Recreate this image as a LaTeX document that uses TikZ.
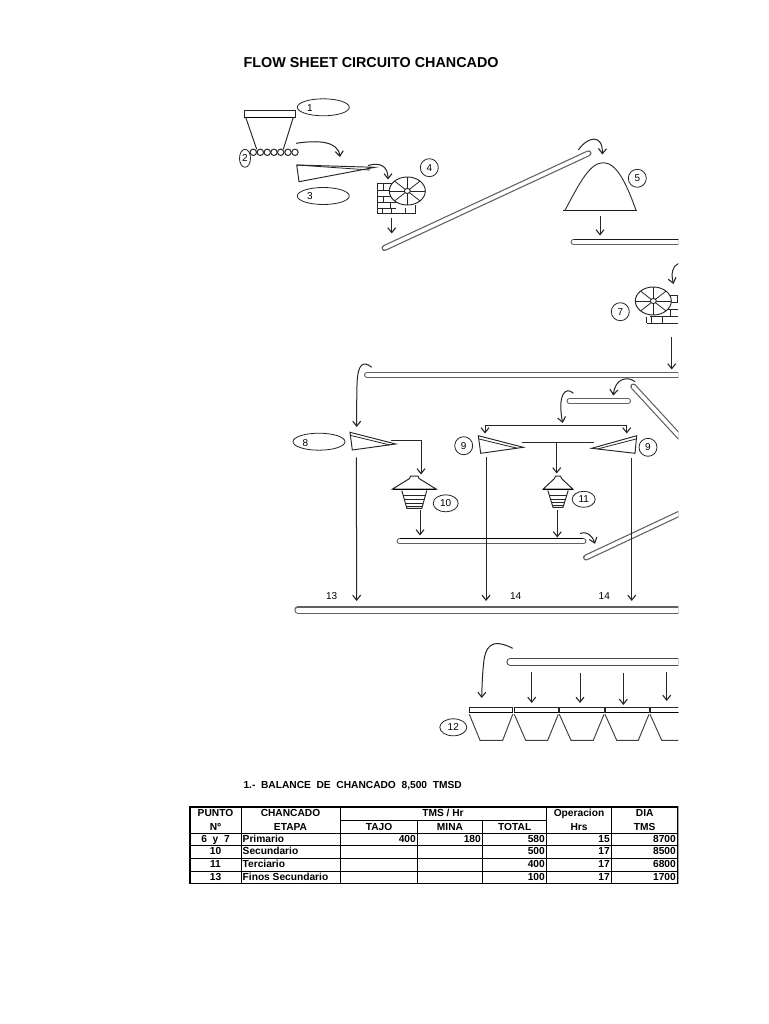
\documentclass[tikz,border=0pt]{standalone}
\usepackage{fontspec}
\setmainfont{Liberation Sans}
\usetikzlibrary{arrows.meta,shapes.geometric}
\tikzset{
  flowline/.style={line width=1pt,black!85,-{Straight Barb[length=5pt,width=8pt,line width=1.1pt]}},
  plainline/.style={line width=1pt,black!85},
  belt/.style={double=white,double distance=3.6pt,line width=1.2pt,draw=black!62,line cap=round},
  solidpart/.style={line width=0.95pt,draw=black!85,fill=white,line join=miter},
  thinpart/.style={line width=0.8pt,black!85},
  oval/.style={ellipse,draw=black!85,line width=0.8pt,inner sep=0pt,fill=white},
  ring/.style={circle,draw=black!85,line width=0.8pt,inner sep=0pt,minimum size=18pt,font=\fontsize{10}{12}\selectfont},
  lbl/.style={inner sep=0pt,font=\fontsize{10}{12}\selectfont},
  cellbase/.style={inner sep=0pt,text height=7.4pt,text depth=1.4pt,font=\fontsize{10.2}{12}\selectfont\bfseries},
  cellc/.style={cellbase,anchor=center},
  celll/.style={cellbase,anchor=west},
  cellr/.style={cellbase,anchor=east},
  tabrule/.style={line width=0.85pt,black},
  tabheavy/.style={line width=1.6pt,black}
}
% straight flow arrow between two named free-end coordinates
\newcommand{\flowarrow}[3]{%
  \coordinate (#1s) at (#2); \coordinate (#1e) at (#3);
  \draw[flowline] (#1s) -- (#1e);}
\newcommand{\crwheel}[2]{%
  \begin{scope}[shift={(#1,#2)}]
    \draw[solidpart] (0,0) ellipse [x radius=18,y radius=14];
    \foreach \a in {0,45,...,315}{\draw[thinpart] (0,0) -- ({18*cos(\a)},{14*sin(\a)});}
    \draw[solidpart] (0,0) ellipse [x radius=3,y radius=2.5];
  \end{scope}}
\newcommand{\crcone}[6]{% centre x, roof half width, body top half, body bottom half, top half, bottom y
  \begin{scope}[shift={(#1,0)}]
    \draw[solidpart,line width=1pt] (-#2,489) -- (-#5,478.5) -- (-#5+1,476) -- (#5-1,476) -- (#5,478.5) -- (#2,489) -- cycle;
    \draw[line width=1.7pt,black] (-#2,489.6) -- (#2,489.6);
    \draw[solidpart] (-#3,490.5) -- (-#4,#6) -- (#4,#6) -- (#3,490.5);
    \foreach \f in {0.27,0.5,0.73,0.9}{\draw[thinpart] ({-(#3)+\f*(#3-#4)},{490.5+\f*(#6-490.5)}) -- ({(#3)-\f*(#3-#4)},{490.5+\f*(#6-490.5)});}
  \end{scope}}
\newcommand{\binshape}[4]{% left, bottom left, bottom right, right
  \draw[line width=1pt,black!85] (#1,707.3) rectangle (#4,712.7);
  \draw[line width=1.4pt,black] (#1,712.7) -- (#4,712.7);
  \draw[line width=0.95pt,black!75] (#1,714.3) -- (#2,740.3) -- (#3,740.3) -- (#4,714.3);}
\begin{document}
\begin{tikzpicture}[x=1pt,y=-1pt]
\useasboundingbox (0,0) rectangle (768,1024);
\fill[white] (0,0) rectangle (768,1024);
\begin{scope}
\clip (0,0) rectangle (678.4,1024);

\node[anchor=west,inner sep=0pt,font=\fontsize{14.35}{16}\selectfont\bfseries] (title) at (243.5,63) {FLOW SHEET CIRCUITO CHANCADO};

% feed hopper
\draw[solidpart,line width=1pt] (244.3,110.7) rectangle (295,117.3);
\draw[line width=1.5pt,black] (244.3,117.3) -- (295,117.3);
\draw[solidpart] (245.7,117.3) -- (256.7,149.3);
\draw[solidpart] (293.3,117.3) -- (283.3,149.3);
\node[oval,minimum width=52pt,minimum height=17pt] (o1) at (323.3,107.3) {};
\node[lbl] (t1) at (310,108) {1};
\node[oval,minimum width=11pt,minimum height=18pt] (o2) at (245,158.3) {};
\node[lbl] (t2) at (245,158.5) {2};
\foreach \r in {253.3,260.3,267.3,274,280.7,288,295}{\draw[line width=1pt,black!85,fill=white] (\r,152.3) circle (3.2);}

\coordinate (a1s) at (296,143.3); \coordinate (a1e) at (340,157);
\draw[flowline] (a1s) .. controls (318,140) and (338,141) .. (a1e);

% grizzly 3
\draw[solidpart] (296.7,165) -- (375,167.3) -- (299,181.7) -- cycle;
\draw[thinpart] (296.7,165) -- (370,170);
\node[oval,minimum width=52pt,minimum height=17pt] (o3) at (323.3,196) {};
\node[lbl] (t3) at (310,196.5) {3};
\coordinate (a2s) at (368,165.5); \coordinate (a2e) at (388,179.5);
\draw[flowline] (a2s) .. controls (380,162) and (388,166) .. (a2e);

% crusher 4
\draw[line width=1pt,black!85] (396,184) -- (377.7,184) -- (377.7,213.3) -- (415,213.3) -- (415,205);
\foreach \yy in {190,196,202,208}{\draw[thinpart] (377.7,\yy) -- (396,\yy);}
\draw[thinpart] (383,184) -- (383,190) (390,190) -- (390,196) (383,196) -- (383,202) (390,202) -- (390,208) (391,208) -- (391,213.3) (405,208) -- (405,213.3) (382,208) -- (382,213.3);
\crwheel{407.3}{191}
\node[ring] (c4) at (429.3,167.7) {4};
\flowarrow{a3}{391.7,218.3}{391.7,233.5}

% inclined belt to pile
\coordinate (b1s) at (384.5,248); \coordinate (b1e) at (588.5,153.3);
\draw[belt] (b1s) -- (b1e);
\coordinate (a4s) at (578.3,150); \coordinate (a4e) at (602.3,154.5);
\draw[flowline] (a4s) .. controls (588,136) and (603,134) .. (a4e);

% stockpile 5
\coordinate (p5l) at (562.7,210.3); \coordinate (p5r) at (637.3,210.3);
\draw[line width=1.1pt,black!90] (p5l) -- (p5r);
\draw[line width=0.95pt,black!80] (565,210.3) .. controls (580,182) and (590,162.7) .. (603.3,162.7) .. controls (617,162.7) and (627,185) .. (636,210.3);
\node[ring] (c5) at (637.3,178.3) {5};
\flowarrow{a5}{600,216}{600,235.5}

% belt under pile
\coordinate (b2s) at (573.5,241.8); \coordinate (b2e) at (700,241.8);
\draw[belt] (b2s) -- (b2e);
\draw[line width=1pt,black!90] (573.5,239.2) -- (680,239.2);

\coordinate (a6s) at (678.5,263.5); \coordinate (a6e) at (673.5,284);
\draw[flowline] (a6s) .. controls (672,266) and (671,274) .. (a6e);

% crusher 7
\draw[thinpart,line width=1pt] (664,295) -- (678.4,295) (668,302) -- (678.4,302) (664,309) -- (678.4,309) (650,316.7) -- (678.4,316.7) (646.7,323.3) -- (678.4,323.3);
\draw[thinpart] (677,295) -- (677,302) (668,302) -- (668,309) (646.7,316.7) -- (646.7,323.3) (651,316.7) -- (651,323.3) (662,316.7) -- (662,323.3) (670,309) -- (670,316.7);
\crwheel{653.3}{301}
\node[ring] (c7) at (620.3,311.7) {7};
\flowarrow{a7}{671.7,337.3}{671.7,369.5}

% main belt
\coordinate (b3s) at (367,374.8); \coordinate (b3e) at (700,374.8);
\draw[belt] (b3s) -- (b3e);
\coordinate (a8s) at (371.7,367.3); \coordinate (a8e) at (356.7,427);
\draw[flowline] (a8s) .. controls (364,361) and (357.5,362) .. (357,385) .. controls (356.6,400) and (356.7,412) .. (a8e);

% screen 8
\draw[solidpart] (350,432.3) -- (395.7,444) -- (352.3,450) -- cycle;
\draw[thinpart] (351,435.5) -- (390,445);
\node[oval,minimum width=52pt,minimum height=17pt] (o8) at (319,441.7) {};
\node[lbl] (t8) at (305.3,442.7) {8};
\coordinate (l8a) at (391,440); \coordinate (l8b) at (421,440); \coordinate (l8c) at (421,474.5);
\draw[flowline] (l8a) -- (l8b) -- (l8c);
\flowarrow{a9}{356.3,457.3}{356.7,601}

% cone 10
\crcone{414.3}{21.7}{12.5}{7.5}{4.7}{508.3}
\node[oval,minimum width=25pt,minimum height=17pt,font=\fontsize{10}{12}\selectfont] (o10) at (445.7,503.3) {10};
\flowarrow{a10}{420,510}{420,535.5}

% transfer belt
\coordinate (b4s) at (399.5,541.2); \coordinate (b4e) at (583.5,541.2);
\draw[belt] (b4s) -- (b4e);
\draw[line width=1.1pt,black] (400,538.9) -- (583,538.9);

% return belts
\coordinate (b5s) at (586,557.5); \coordinate (b5e) at (700,504);
\draw[belt] (b5s) -- (b5e);
\coordinate (a11s) at (580,533.5); \coordinate (a11e) at (595,543.8);
\draw[flowline] (a11s) .. controls (587,531) and (592,535) .. (a11e);

\coordinate (b6s) at (633.3,386.5); \coordinate (b6e) at (700,459);
\draw[belt] (b6s) -- (b6e);
\coordinate (a12s) at (635,381.7); \coordinate (a12e) at (613.3,395.5);
\draw[flowline] (a12s) .. controls (628,376) and (615,378) .. (a12e);

% small belt
\coordinate (b7s) at (569.5,401); \coordinate (b7e) at (628,401);
\draw[belt] (b7s) -- (b7e);
\coordinate (a13s) at (573.3,393.3); \coordinate (a13e) at (562.7,423);
\draw[flowline] (a13s) .. controls (566,386) and (557,394) .. (a13e);

% splitter
\coordinate (sl) at (485,433.5); \coordinate (sr) at (626.7,433.5);
\draw[flowline] (556,425) -- (485,425) -- (sl);
\draw[flowline] (556,425) -- (626.7,425) -- (sr);

% screens 9
\draw[solidpart] (478.3,435.7) -- (523.3,447.3) -- (480.7,453.3) -- cycle;
\draw[thinpart] (479,439) -- (517.5,448.3);
\draw[solidpart] (636.7,435.7) -- (591.7,448.3) -- (635,453.3) -- cycle;
\draw[thinpart] (636,439) -- (597.5,449);
\node[ring] (c9a) at (463.7,445.7) {9};
\node[ring] (c9b) at (648,447.3) {9};
\coordinate (h1) at (521.7,442.7); \coordinate (h2) at (594,442.7);
\draw[plainline] (h1) -- (h2);
\flowarrow{a14}{556.7,442.7}{556.7,473.5}
\flowarrow{a15}{486,457.3}{486,601}
\flowarrow{a16}{631.7,458.3}{631.7,601}

% cone 11
\crcone{558}{14.7}{10.2}{5}{3.5}{507.3}
\node[oval,minimum width=23pt,minimum height=16pt,font=\fontsize{10}{12}\selectfont] (o11) at (583.7,499.3) {11};
\flowarrow{a17}{557.3,510}{557.3,537.5}

% fines belt
\node[lbl] (t13) at (331.7,596) {13};
\node[lbl] (t14a) at (515.7,596.5) {14};
\node[lbl] (t14b) at (604.3,596.5) {14};
\coordinate (b8s) at (298,610); \coordinate (b8e) at (700,610);
\draw[belt,double distance=5pt] (b8s) -- (b8e);

% bin feed
\coordinate (b9s) at (510.5,661.7); \coordinate (b9e) at (700,661.7);
\draw[belt,double distance=6pt,draw=black!70] (b9s) -- (b9e);
\coordinate (a18s) at (512.7,648.3); \coordinate (a18e) at (481.7,698);
\draw[flowline] (a18s) .. controls (498,641) and (487,640) .. (484,660) .. controls (482.5,672) and (482,685) .. (a18e);
\flowarrow{a19}{531.7,671.7}{531.7,703}
\flowarrow{a20}{580,673.3}{580,703}
\flowarrow{a21}{623.3,673.3}{623.3,705}
\flowarrow{a22}{666.7,671.7}{666.7,701}

% bins
\binshape{469.3}{480}{502.7}{512.7}
\binshape{514.3}{525.7}{547.7}{558.3}
\binshape{559.3}{571}{593.3}{604}
\binshape{605}{616.7}{638.3}{649}
\binshape{650}{661.7}{690}{695}
\node[oval,minimum width=27pt,minimum height=17pt,font=\fontsize{10}{12}\selectfont] (o12) at (453.3,727.3) {12};

% balance table
\node[anchor=west,inner sep=0pt,font=\fontsize{10.2}{12}\selectfont\bfseries] (bal) at (243.3,786) {1.-\ \ BALANCE\ \ DE\ \ CHANCADO\ \ 8,500\ \ TMSD};

\foreach \yy in {845,858.3,871}{\draw[tabrule] (190,\yy) -- (677.7,\yy);}
\draw[tabrule] (340,820.7) -- (546.7,820.7);
\foreach \xx in {417.7,482.7}{\draw[tabrule] (\xx,820.7) -- (\xx,883.3);}
\foreach \xx in {241,340,546.7,611.7}{\draw[tabrule] (\xx,806.7) -- (\xx,883.3);}
\draw[tabheavy] (190,833.3) -- (677.7,833.3);
\draw[tabheavy] (190,806.7) rectangle (677.7,883.3);

\node[cellc] (h11) at (215.5,813.5) {PUNTO};
\node[cellc] (h12) at (215.5,827) {Nº};
\node[cellc] (h21) at (290.5,813.5) {CHANCADO};
\node[cellc] (h22) at (290.5,827) {ETAPA};
\node[cellc] (h31) at (443,813.5) {TMS / Hr};
\node[cellc] (h41) at (379,827) {TAJO};
\node[cellc] (h42) at (450,827) {MINA};
\node[cellc] (h43) at (514.7,827) {TOTAL};
\node[cellc] (h51) at (579,813.5) {Operacion};
\node[cellc] (h52) at (579,827) {Hrs};
\node[cellc] (h61) at (644.7,813.5) {DIA};
\node[cellc] (h62) at (644.7,827) {TMS};

\node[cellc] (r1a) at (215.5,839) {6\ \ y\ \ 7};
\node[celll] (r1b) at (242.5,839) {Primario};
\node[cellr] (r1c) at (416,839) {400};
\node[cellr] (r1d) at (481,839) {180};
\node[cellr] (r1e) at (545,839) {580};
\node[cellr] (r1f) at (610,839) {15};
\node[cellr] (r1g) at (676,839) {8700};

\node[cellc] (r2a) at (215.5,851.7) {10};
\node[celll] (r2b) at (242.5,851.7) {Secundario};
\node[cellr] (r2e) at (545,851.7) {500};
\node[cellr] (r2f) at (610,851.7) {17};
\node[cellr] (r2g) at (676,851.7) {8500};

\node[cellc] (r3a) at (215.5,864.7) {11};
\node[celll] (r3b) at (242.5,864.7) {Terciario};
\node[cellr] (r3e) at (545,864.7) {400};
\node[cellr] (r3f) at (610,864.7) {17};
\node[cellr] (r3g) at (676,864.7) {6800};

\node[cellc] (r4a) at (215.5,877.2) {13};
\node[celll] (r4b) at (242.5,877.2) {Finos Secundario};
\node[cellr] (r4e) at (545,877.2) {100};
\node[cellr] (r4f) at (610,877.2) {17};
\node[cellr] (r4g) at (676,877.2) {1700};
\end{scope}
\end{tikzpicture}
\end{document}
